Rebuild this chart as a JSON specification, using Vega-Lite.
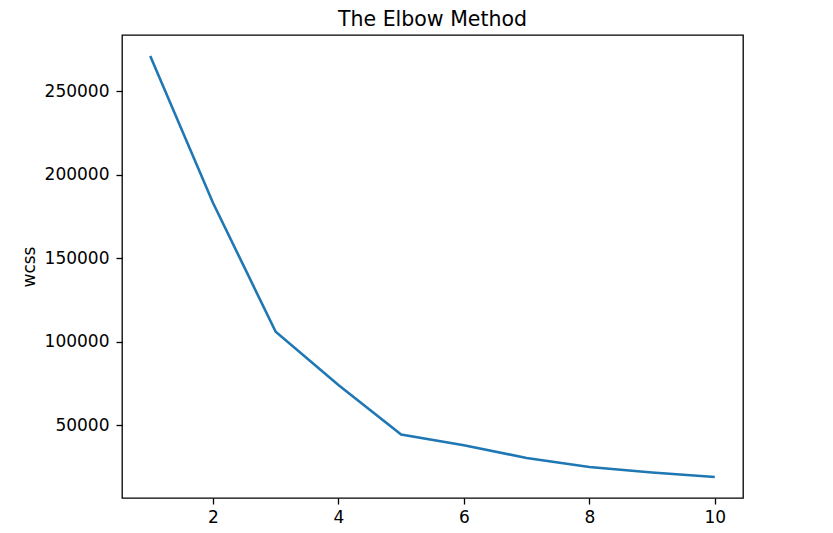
{
  "$schema": "https://vega.github.io/schema/vega-lite/v6.json",
  "autosize": "none",
  "width": 621,
  "height": 463,
  "padding": {"left": 122, "top": 35, "right": 90, "bottom": 35},
  "background": "white",
  "config": {
    "font": "DejaVu Sans",
    "view": {"stroke": "black", "strokeWidth": 1.3},
    "axis": {
      "grid": false,
      "domain": false,
      "tickColor": "black",
      "tickSize": 6,
      "tickWidth": 1.3,
      "labelFont": "DejaVu Sans",
      "labelFontSize": 17,
      "labelColor": "black",
      "titleFont": "DejaVu Sans",
      "titleFontSize": 17,
      "titleFontWeight": "normal",
      "titleColor": "black"
    }
  },
  "title": {
    "text": "The Elbow Method",
    "font": "DejaVu Sans",
    "fontSize": 20.5,
    "fontWeight": "normal",
    "color": "black",
    "anchor": "middle",
    "baseline": "alphabetic",
    "offset": 8,
    "dy": 19
  },
  "data": {
    "values": [
      {"k": 1, "wcss": 271000},
      {"k": 2, "wcss": 183200},
      {"k": 3, "wcss": 105900},
      {"k": 4, "wcss": 74000},
      {"k": 5, "wcss": 44400},
      {"k": 6, "wcss": 38000},
      {"k": 7, "wcss": 30400},
      {"k": 8, "wcss": 25000},
      {"k": 9, "wcss": 21700},
      {"k": 10, "wcss": 19000}
    ]
  },
  "mark": {"type": "line", "color": "#1f77b4", "strokeWidth": 2.6},
  "encoding": {
    "x": {
      "field": "k",
      "type": "quantitative",
      "scale": {"domain": [0.55, 10.45], "nice": false, "zero": false},
      "axis": {"values": [2, 4, 6, 8, 10], "title": null, "labelPadding": 5, "labelFlush": false, "labelOverlap": false}
    },
    "y": {
      "field": "wcss",
      "type": "quantitative",
      "scale": {"domain": [6400, 283600], "nice": false, "zero": false},
      "axis": {
        "values": [50000, 100000, 150000, 200000, 250000],
        "format": "d",
        "title": "wcss",
        "labelPadding": 7,
        "labelFlush": false,
        "labelOverlap": false,
        "titleBaseline": "alphabetic",
        "titleAlign": "center",
        "titleAngle": -90,
        "titleX": -88,
        "titleY": 231.5
      }
    }
  }
}
